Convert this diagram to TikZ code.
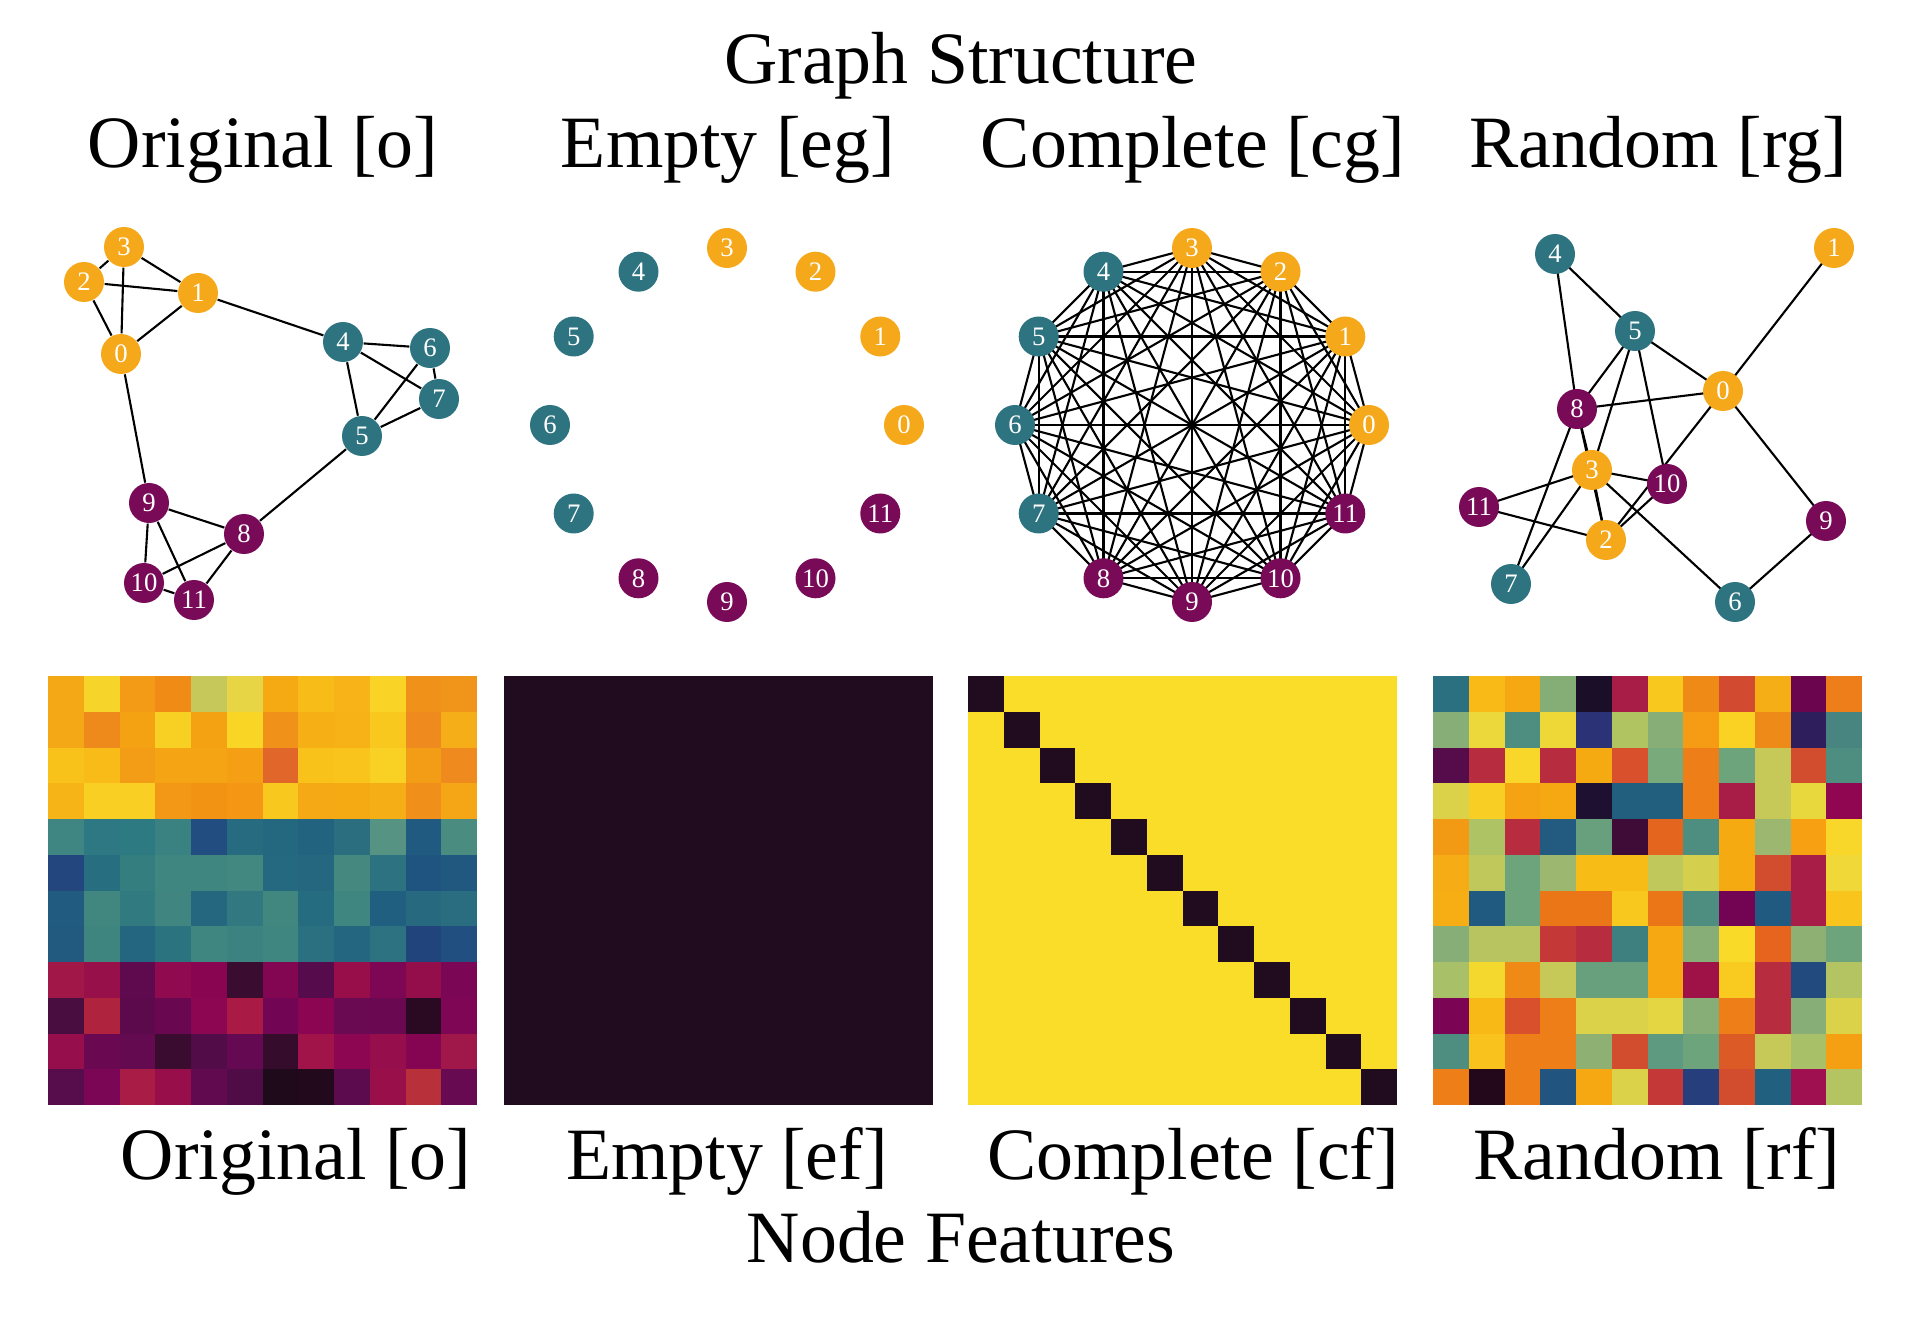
\documentclass[tikz,border=0pt]{standalone}
\usepackage{fontspec}
\setmainfont{Liberation Serif}
\usepackage{tikz}
\usetikzlibrary{calc,backgrounds}
\definecolor{col0}{HTML}{F5A81A}
\definecolor{col1}{HTML}{2D7380}
\definecolor{col2}{HTML}{780A58}
\definecolor{dark}{HTML}{200C1E}
\definecolor{yell}{HTML}{F9DD29}
\def\heatmap(#1,#2)#3{\foreach \rw [count=\ri from 0] in {#3} {%
    \foreach \hx [count=\ci from 0] in \rw {%
      \edef\tmp{\noexpand\definecolor{cell}{HTML}{\hx}}\tmp
      \fill[cell] ({#1+\ci*35.75},{#2+\ri*35.75}) rectangle ++(36.1,36.1);}}}
\tikzset{
  gn/.style={circle, inner sep=0pt, minimum size=4mm, text=white, font=\fontsize{7.6}{8}\selectfont},
  link/.style={line width=0.6pt, black},
  lbl/.style={anchor=base, inner sep=0pt, font=\fontsize{21}{25}\selectfont}
}

\begin{document}
\begin{tikzpicture}[x=0.1mm, y=-0.1mm]
		%%%%% START %%%%%
		\useasboundingbox (0,0) rectangle (1928,1344);
		
		\node[lbl] (gtitle) at (961,84) {Graph Structure};
		\node[lbl] (go) at (263,168) {Original [o]};
		\node[lbl] (ge) at (728,168) {Empty [eg]};
		\node[lbl] (gc) at (1193,168) {Complete [cg]};
		\node[lbl] (gr) at (1658,168) {Random [rg]};
		
		% original graph
		\node[gn, fill=col0] (o0) at (121,354) {0};
		\node[gn, fill=col0] (o1) at (198,293) {1};
		\node[gn, fill=col0] (o2) at (84,282) {2};
		\node[gn, fill=col0] (o3) at (124,247) {3};
		\node[gn, fill=col1] (o4) at (343,342) {4};
		\node[gn, fill=col1] (o5) at (362,436) {5};
		\node[gn, fill=col1] (o6) at (430,348) {6};
		\node[gn, fill=col1] (o7) at (439,399) {7};
		\node[gn, fill=col2] (o8) at (244,534) {8};
		\node[gn, fill=col2] (o9) at (149,503) {9};
		\node[gn, fill=col2] (o10) at (144,583) {10};
		\node[gn, fill=col2] (o11) at (194,600) {11};
		\begin{scope}[on background layer]
		\foreach \a/\b in {3/2,3/1,3/0,2/1,2/0,1/0,1/4,4/6,4/7,4/5,6/7,6/5,7/5,5/8,0/9,9/8,9/10,9/11,8/10,8/11,10/11}
			\draw[link] (o\a) -- (o\b);
		\end{scope}
		
		% empty graph
		\foreach \k in {0,...,11} {
			\pgfmathtruncatemacro\g{\k/4}
			\node[gn, fill=col\g] (e\k) at ({727+177*cos(30*\k)},{425-177*sin(30*\k)}) {\k};
		}
		
		% complete graph
		\foreach \k in {0,...,11} {
			\pgfmathtruncatemacro\g{\k/4}
			\node[gn, fill=col\g] (c\k) at ({1192+177*cos(30*\k)},{425-177*sin(30*\k)}) {\k};
		}
		\begin{scope}[on background layer]
		\foreach \i in {0,...,10} {
			\pgfmathtruncatemacro\n{\i+1}
			\foreach \j in {\n,...,11}
				\draw[link] (c\i.center) -- (c\j.center);
		}
		\end{scope}
		
		% random graph
		\node[gn, fill=col0] (r0) at (1723,391) {0};
		\node[gn, fill=col0] (r1) at (1834,248) {1};
		\node[gn, fill=col0] (r2) at (1606,540) {2};
		\node[gn, fill=col0] (r3) at (1592,470) {3};
		\node[gn, fill=col1] (r4) at (1555,254) {4};
		\node[gn, fill=col1] (r5) at (1635,331) {5};
		\node[gn, fill=col1] (r6) at (1735,602) {6};
		\node[gn, fill=col1] (r7) at (1511,584) {7};
		\node[gn, fill=col2] (r8) at (1577,409) {8};
		\node[gn, fill=col2] (r9) at (1826,521) {9};
		\node[gn, fill=col2] (r10) at (1667,484) {10};
		\node[gn, fill=col2] (r11) at (1479,507) {11};
		\begin{scope}[on background layer]
		\foreach \a/\b in {4/5,4/8,5/8,5/3,5/10,5/0,0/1,0/8,0/2,10/2,0/9,9/6,8/3,8/2,8/7,3/7,3/11,11/2,3/10,3/2,3/6}
			\draw[link] (r\a.center) -- (r\b.center);
		\end{scope}
		
		% node features
		\heatmap(48,676){%
			{F5A816,F7D42A,F39B16,F08C16,C6C95A,E8D545,F5AA14,F8BC18,F7B317,F9D326,F0911A,F0951A},%
			{F5A816,EE8A1C,F5A212,F8D024,F5A212,F9D526,F0921A,F6B016,F6B216,F8C81E,EE8A1E,F5AE18},%
			{F9C21A,F8BB18,F39C16,F5A414,F5A414,F59F14,E0662A,F9C21A,F9C41C,F9D024,F39C16,EE8A1E},%
			{F7B417,F9CF24,F9CF24,F39716,F29314,F39714,F9C81E,F5A914,F5AA14,F6AE16,F0901A,F5A616},%
			{3F8582,2D7882,2E7A82,3A8282,224D80,266B80,246880,22647F,2A6E80,579383,215A80,4A8C80},%
			{23467F,266E80,347E80,3F8580,3F8580,428880,24697F,24677F,458880,2C7280,205480,205880},%
			{215C80,418780,317A80,418580,24677F,317880,418780,266C80,3F8580,215F80,27697F,2A6C80},%
			{21597F,3E8580,24667F,2C7380,3F8580,3B8280,408680,2B7080,24667F,2C7280,21447C,214F80},%
			{A11848,98104A,5F0A4E,8F0A4E,890551,3A0C30,830653,550B4C,980E4B,7D0655,950E4C,7C0656},%
			{4A0D40,B0233E,5C0A4C,690850,8C0652,A91B44,730654,8B0552,690A52,6A0852,2A0A22,7E0655},%
			{960E4C,6A0852,640A50,3A0D30,520C48,650A52,350C2C,A0144A,8C0652,970E4D,860553,A0174A},%
			{570C4C,7C0656,A81C46,980E4A,620A50,4F0C46,1E0A1A,220A1C,5C0B4E,990F4A,B8303A,680A52}}
		
		\fill[dark] (504,676) rectangle (933,1105);
		
		\fill[yell] (968,676) rectangle (1397,1105);
		\foreach \i in {0,...,11}
			\fill[dark] ({968+\i*35.75},{676+\i*35.75}) rectangle ++(35.75,35.75);
		
		\heatmap(1433,676){%
			{2B7080,F9BA18,F6A812,84AE76,1A0E28,A81C48,F9C81E,F08A16,D24A30,F6AE16,6A054E,EE7E1A},%
			{86AE76,EDD83C,4E8E80,EED838,2C3276,B0C462,86AE76,F59C14,F9D224,EE8A18,2E1E5C,488480},%
			{560C4A,B82C40,F9D62A,B82C40,F6AA12,D8502C,78AA7C,EE7E18,6EA47C,C6C858,D24C2E,4E8E80},%
			{DCD24A,F9CE24,F5A312,F5A812,1E1030,225F7E,225F7E,EE7E18,A81C48,C6C858,E8D83E,900650},%
			{F39A14,AEC464,B82C40,225A80,68A07E,3E0C36,E4661E,4E8E80,F6AA12,9CB870,F6A012,F9D62A},%
			{F6AC14,C0C85C,6EA47C,9CB870,F8BC16,F8BC16,C0C85C,D4D04E,F6AA12,D24C2E,A81C48,EFD838},%
			{F6AE14,215A80,6EA47C,EA7618,EA7618,F9C81E,EA7618,4E8E80,730453,215A80,A81C48,F9C41C},%
			{86AE76,B8C460,B8C460,C43838,B82C40,3E8080,F6A812,86AE76,F9DA28,E6641E,8EB072,6EA47C},%
			{A8C068,F4D82E,F08A16,C6C858,68A07E,68A07E,F6A812,9E1248,F9CA20,B82C40,224A7E,B4C462},%
			{7C0455,F8B816,D8502C,EE7E18,DCD24A,DCD24A,E4D642,86AE76,EE7E18,B82C40,86AE76,DCD24A},%
			{4E8E80,F9C21C,EE7E18,EE7E18,8EB072,D24C2E,5E9A80,6EA47C,DC5A26,C6C858,A8C068,F5A012},%
			{EE7E18,22081A,EE7E18,225480,F6A812,DCD24A,C43838,263E7C,D24C2E,21607E,9E1050,B4C462}}
		
		\node[lbl] (fo) at (296,1179) {Original [o]};
		\node[lbl] (fe) at (727,1179) {Empty [ef]};
		\node[lbl] (fc) at (1193,1179) {Complete [cf]};
		\node[lbl] (fr) at (1657,1179) {Random [rf]};
		\node[lbl] (ftitle) at (961,1262) {Node Features};
		
		%%%%% END %%%%%
\end{tikzpicture}
\end{document}
